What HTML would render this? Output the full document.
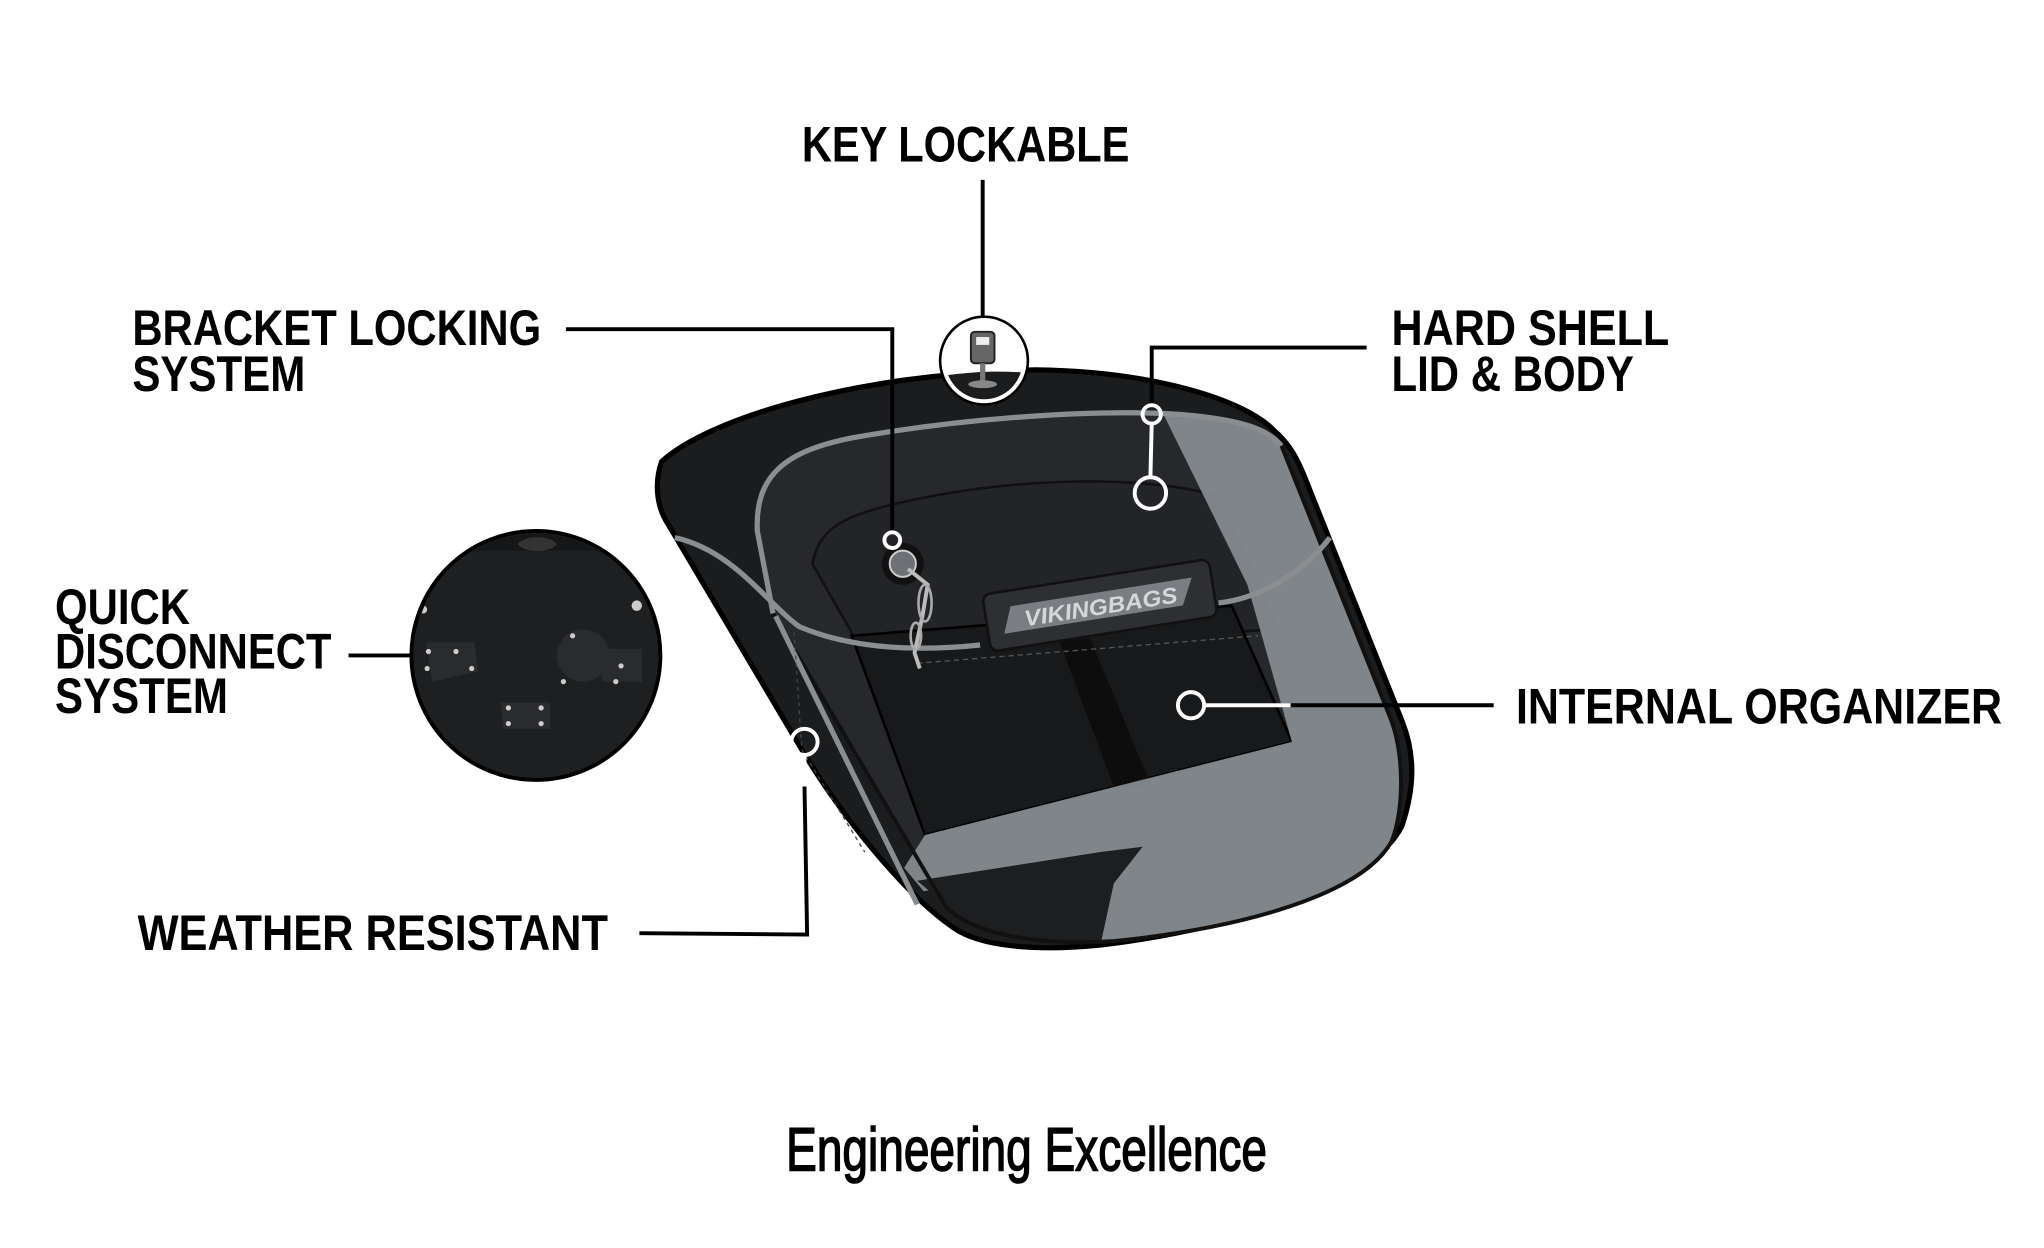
<!DOCTYPE html>
<html><head><meta charset="utf-8"><style>
html,body{margin:0;padding:0;background:#fff;}
svg{display:block;}
text{font-family:"Liberation Sans",sans-serif;font-weight:bold;fill:#000;}
</style></head><body>
<svg width="2044" height="1248" viewBox="0 0 1560 952" xmlns="http://www.w3.org/2000/svg">
<rect width="1560" height="952" fill="#fff"/>
<defs>
<clipPath id="kc"><circle cx="751" cy="275" r="31"/></clipPath>
<clipPath id="qc"><circle cx="409" cy="500" r="93"/></clipPath>
</defs>

<!-- Bag body -->
<path d="M505,352 C540,320 650,285 790,282 C880,283 950,305 972,328 C984,338 990,350 995,362 L1070,550 C1080,575 1080,600 1070,630 C1050,672 950,708 840,721 C790,726 748,722 728,708 C690,682 642,622 612,572 L510,400 C500,385 500,366 505,352 Z" fill="#1b1c1e" stroke="#000" stroke-width="4"/>
<!-- lid front panel -->
<path d="M592,468 L578,405 C576,362 600,344 650,334 C740,318 840,312 900,316 C950,320 968,328 978,340 L1060,545 C1072,572 1072,618 1062,642 C1040,682 950,708 850,718 C790,722 742,712 722,692 Z" fill="#26282b"/>
<!-- inner lid panel -->
<path d="M620,430 C625,405 640,395 680,385 C760,366 860,360 930,378 L975,480 L660,500 Z" fill="#222427" stroke="#111" stroke-width="2"/>
<!-- organizer box -->
<path d="M650,485 L940,462 L986,566 L706,637 Z" fill="#18191b" stroke="#000" stroke-width="2"/>
<path d="M808,488 L832,487 L878,598 L852,605 Z" fill="#0d0d0e"/>
<path d="M700,506 L960,485" stroke="#555" stroke-width="1" stroke-dasharray="4 3"/>
<!-- light translucent overlay -->
<path d="M888,316 C940,320 968,328 978,340 L1060,545 C1072,572 1072,618 1062,642 C1040,682 950,708 840,720 L850,674 L872,646 L780,668 L705,680 L690,662 L706,637 L986,566 L952,446 Z" fill="#858a8e" opacity="0.95"/>
<path d="M700,672 L840,650 L872,646 L850,674 L840,720 C800,722 760,716 738,704 Z" fill="#1d1e20"/>
<!-- lid rim lines -->
<path d="M590,468 L578,405 C576,362 600,344 650,334 C740,318 840,312 900,316 C950,320 968,328 978,340" fill="none" stroke="#8b8e91" stroke-width="4"/>
<path d="M978,340 L1060,545 C1072,572 1072,618 1062,642 C1040,682 950,708 850,718 C790,722 742,712 722,692 L590,468" fill="none" stroke="#111" stroke-width="3"/>
<path d="M592,470 L700,690" fill="none" stroke="#8b8e91" stroke-width="4"/>
<path d="M515,410 C560,420 585,460 610,478 C650,495 700,497 748,492 M930,460 C970,455 1000,430 1015,410" fill="none" stroke="#8b8e91" stroke-width="4"/>
<path d="M606,482 L612,572 L660,650" fill="none" stroke="#444" stroke-width="1" stroke-dasharray="3 3"/>
<!-- badge -->
<g transform="rotate(-9 838 462)">
<rect x="752" y="440" width="175" height="44" rx="6" fill="#2d2f32" stroke="#111" stroke-width="2"/>
<polygon points="772,452 912,452 902,472 764,472" fill="#7a7e82"/>
<text x="781" y="469" font-size="17" textLength="118" lengthAdjust="spacingAndGlyphs" style="fill:#d5d7d9;font-style:italic">VIKINGBAGS</text>
</g>
<!-- lock + keys -->
<circle cx="689" cy="430" r="16" fill="#111"/>
<circle cx="689" cy="430" r="10" fill="#6d7175" stroke="#ccc" stroke-width="1.5"/>
<path d="M693,434 L708,446 L704,470 L698,498 L702,510" fill="none" stroke="#bbb" stroke-width="3"/>
<ellipse cx="706" cy="460" rx="5" ry="14" fill="none" stroke="#aaa" stroke-width="2"/>
<ellipse cx="699" cy="485" rx="4" ry="10" fill="none" stroke="#aaa" stroke-width="2"/>

<!-- Key lockable callout -->
<line x1="750" y1="137" x2="750" y2="243" stroke="#000" stroke-width="3"/>
<circle cx="751" cy="275" r="33" fill="#fff" stroke="#000" stroke-width="3"/>
<g clip-path="url(#kc)">
<path d="M700,290 C740,282 770,282 800,286 L800,320 L700,320 Z" fill="#1b1c1e"/>
<rect x="741" y="253" width="18" height="24" rx="3" fill="#666" stroke="#222" stroke-width="1.5"/>
<rect x="745" y="257" width="10" height="6" fill="#eee"/>
<rect x="748" y="277" width="4" height="14" fill="#777"/>
<ellipse cx="750" cy="293" rx="11" ry="3" fill="#888"/>
</g>
<circle cx="751" cy="275" r="31" fill="none" stroke="#fff" stroke-width="3"/>

<!-- Bracket locking -->
<polyline points="432,251 681,251 681,406" fill="none" stroke="#000" stroke-width="3"/>
<circle cx="681" cy="412" r="6" fill="none" stroke="#fff" stroke-width="3"/>

<!-- Hard shell -->
<polyline points="1043,265 879,265 879,309" fill="none" stroke="#000" stroke-width="3"/>
<circle cx="879" cy="316" r="7" fill="none" stroke="#fff" stroke-width="3"/>
<line x1="879" y1="323" x2="878" y2="364" stroke="#fff" stroke-width="3"/>
<circle cx="878" cy="376" r="12" fill="none" stroke="#fff" stroke-width="3"/>

<!-- Internal organizer -->
<line x1="1140" y1="538" x2="920" y2="538" stroke="#000" stroke-width="3"/>
<line x1="985" y1="538" x2="920" y2="538" stroke="#fff" stroke-width="3"/>
<circle cx="909" cy="538" r="10" fill="none" stroke="#fff" stroke-width="3"/>

<!-- Weather resistant -->
<polyline points="488,712 616,713 614,600" fill="none" stroke="#000" stroke-width="3"/>
<line x1="614" y1="600" x2="614" y2="577" stroke="#fff" stroke-width="3"/>
<circle cx="614" cy="566" r="10" fill="none" stroke="#fff" stroke-width="3"/>

<!-- Quick disconnect -->
<line x1="266" y1="500" x2="316" y2="500" stroke="#000" stroke-width="3"/>
<circle cx="409" cy="500" r="95" fill="#1e1f21" stroke="#000" stroke-width="3"/>
<g clip-path="url(#qc)">
<rect x="300" y="395" width="220" height="25" fill="#151617"/>
<path d="M395,415 C400,408 420,408 425,415 C420,422 400,422 395,415 Z" fill="#333"/>
<path d="M325,490 L362,490 L365,512 L330,520 Z" fill="#2a2b2d"/>
<path d="M382,536 L420,536 L420,556 L384,556 Z" fill="#2a2b2d"/>
<circle cx="445" cy="500" r="20" fill="#2a2b2d"/>
<path d="M455,495 L490,495 L490,520 L460,520 Z" fill="#2a2b2d"/>
<g fill="#ccc">
<circle cx="327" cy="497" r="2"/><circle cx="348" cy="497" r="2"/><circle cx="326" cy="510" r="2"/><circle cx="360" cy="510" r="2"/>
<circle cx="388" cy="540" r="2"/><circle cx="413" cy="540" r="2"/><circle cx="388" cy="552" r="2"/><circle cx="413" cy="552" r="2"/>
<circle cx="474" cy="508" r="2"/><circle cx="470" cy="520" r="2"/><circle cx="430" cy="520" r="2"/><circle cx="437" cy="485" r="2"/>
<circle cx="486" cy="462" r="4"/><circle cx="323" cy="465" r="3"/>
</g>
</g>

<!-- Labels -->
<text x="612" y="123" font-size="38" textLength="250" lengthAdjust="spacingAndGlyphs">KEY LOCKABLE</text>
<text x="101" y="263" font-size="38" textLength="312" lengthAdjust="spacingAndGlyphs">BRACKET LOCKING</text>
<text x="101" y="298" font-size="38" textLength="132" lengthAdjust="spacingAndGlyphs">SYSTEM</text>
<text x="1062" y="263" font-size="38" textLength="212" lengthAdjust="spacingAndGlyphs">HARD SHELL</text>
<text x="1062" y="298" font-size="38" textLength="185" lengthAdjust="spacingAndGlyphs">LID &amp; BODY</text>
<text x="42" y="476" font-size="38" textLength="103" lengthAdjust="spacingAndGlyphs">QUICK</text>
<text x="42" y="510" font-size="38" textLength="211" lengthAdjust="spacingAndGlyphs">DISCONNECT</text>
<text x="42" y="544" font-size="38" textLength="132" lengthAdjust="spacingAndGlyphs">SYSTEM</text>
<text x="1157" y="552" font-size="38" textLength="371" lengthAdjust="spacingAndGlyphs">INTERNAL ORGANIZER</text>
<text x="105" y="725" font-size="38" textLength="359" lengthAdjust="spacingAndGlyphs">WEATHER RESISTANT</text>
<text x="600" y="893" font-size="47" textLength="367" lengthAdjust="spacingAndGlyphs" style="font-weight:normal;stroke:#000;stroke-width:1.2">Engineering Excellence</text>
</svg>
</body></html>
